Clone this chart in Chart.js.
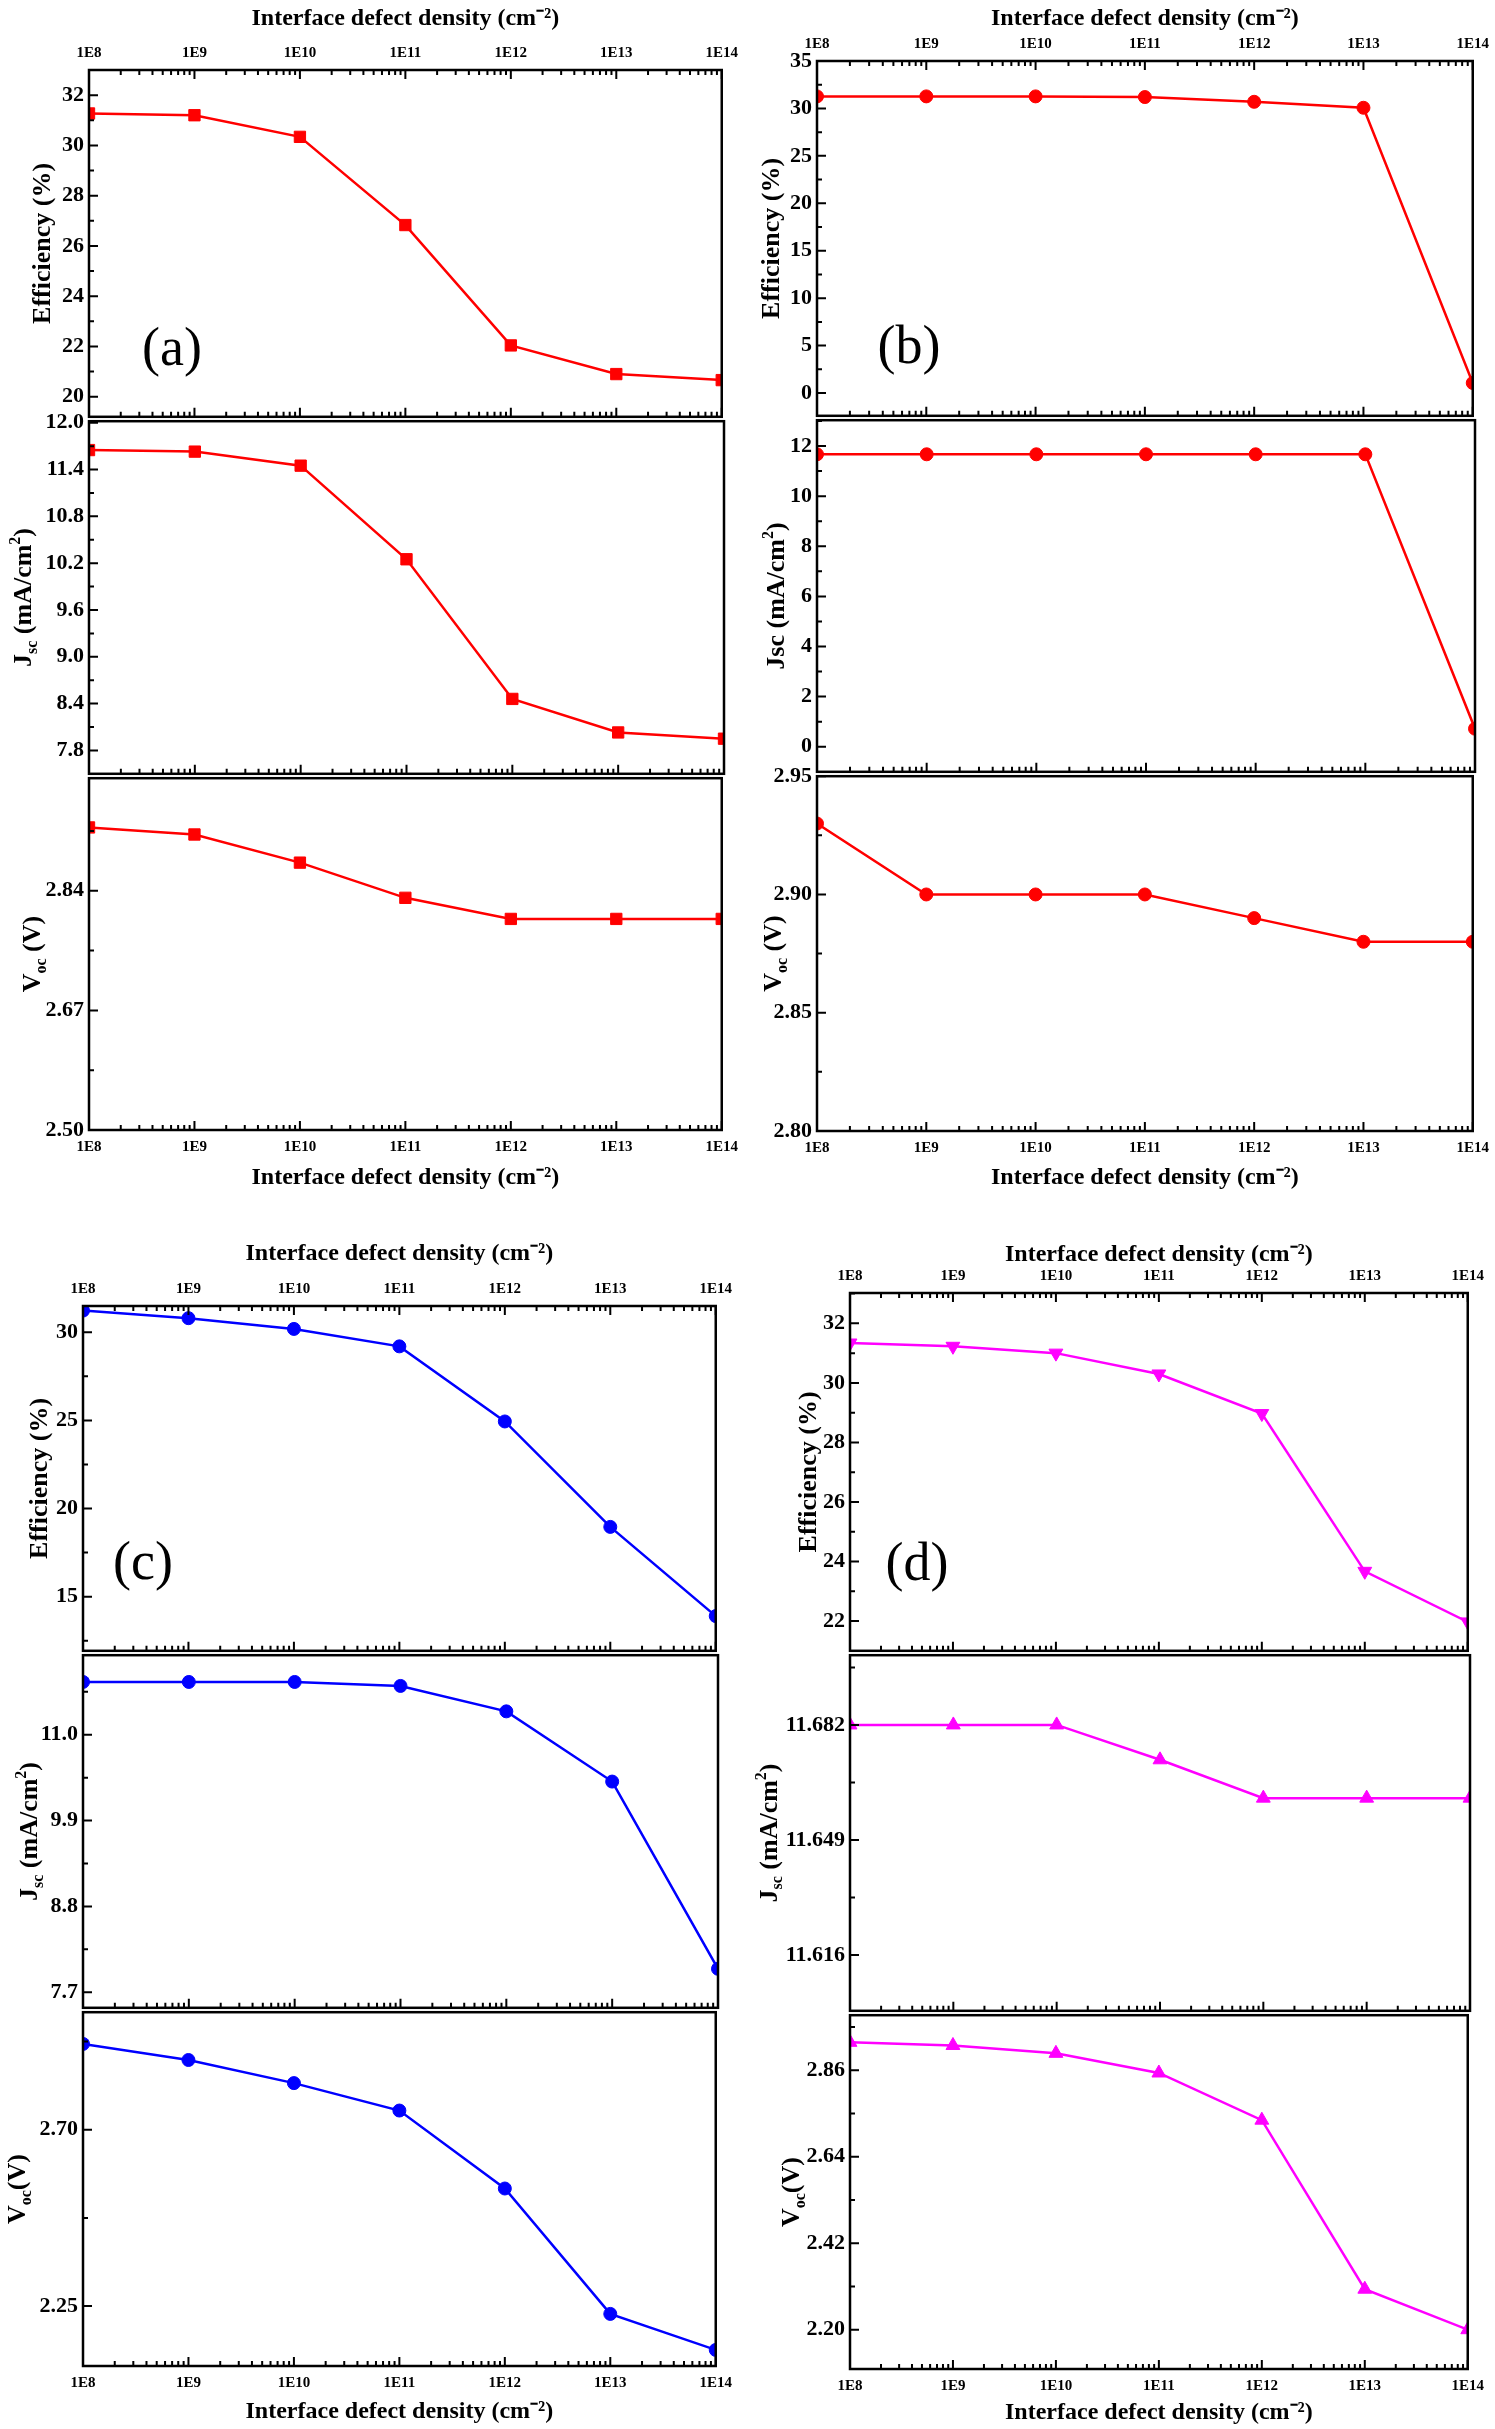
<!DOCTYPE html>
<html>
<head>
<meta charset="utf-8">
<script src="https://cdn.jsdelivr.net/npm/chart.js@4.4.1/dist/chart.umd.min.js"></script>
<style>
html, body { margin: 0; padding: 0; background: #fff; }
#fig { position: relative; width: 1495px; height: 2429px; overflow: hidden; }
#fig canvas { position: absolute; }
.tag { position: absolute; font-family: 'Liberation Serif', 'Times New Roman', serif; font-size: 54px; line-height: 1; transform: translate(-50%, -50%); white-space: nowrap; }
</style>
</head>
<body>
<div id="fig"></div>
<script>
// x values and labels (shared)
const densities = [1e8, 1e9, 1e10, 1e11, 1e12, 1e13, 1e14];
const xTickLabels = ['1E8', '1E9', '1E10', '1E11', '1E12', '1E13', '1E14'];

// panel (a)
const effA = [31.27, 31.2, 30.34, 26.83, 22.04, 20.9, 20.66];
const jscA = [11.65, 11.63, 11.45, 10.25, 8.46, 8.03, 7.95];
const vocA = [2.93, 2.92, 2.88, 2.83, 2.80, 2.80, 2.80];
const effTicksA = [20, 22, 24, 26, 28, 30, 32];
const jscTicksA = [7.8, 8.4, 9.0, 9.6, 10.2, 10.8, 11.4, 12.0];
const vocTicksA = [2.50, 2.67, 2.84];

// panel (b)
const effB = [31.27, 31.27, 31.27, 31.2, 30.7, 30.07, 1.06];
const jscB = [11.67, 11.67, 11.67, 11.67, 11.67, 11.67, 0.72];
const vocB = [2.93, 2.90, 2.90, 2.90, 2.89, 2.88, 2.88];
const effTicksB = [0, 5, 10, 15, 20, 25, 30, 35];
const jscTicksB = [0, 2, 4, 6, 8, 10, 12];
const vocTicksB = [2.80, 2.85, 2.90, 2.95];

// panel (c)
const effC = [31.23, 30.8, 30.19, 29.2, 24.94, 18.96, 13.9];
const jscC = [11.677, 11.677, 11.677, 11.626, 11.30, 10.40, 8.0];
const vocC = [2.919, 2.878, 2.819, 2.749, 2.550, 2.230, 2.138];
const effTicksC = [15, 20, 25, 30];
const jscTicksC = [7.7, 8.8, 9.9, 11.0];
const vocTicksC = [2.25, 2.70];

// panel (d)
const effD = [31.34, 31.23, 31.0, 30.3, 28.97, 23.67, 21.97];
const jscD = [11.682, 11.682, 11.682, 11.672, 11.661, 11.661, 11.661];
const vocD = [2.931, 2.923, 2.903, 2.853, 2.733, 2.303, 2.20];
const effTicksD = [22, 24, 26, 28, 30, 32];
const jscTicksD = [11.616, 11.649, 11.682];
const vocTicksD = [2.20, 2.42, 2.64, 2.86];

const X_TITLE = 'Interface defect density (cm\u207B\u00B2)';
const EFF = [['Efficiency (%)']];
const JSC = [['J'], ['sc', 'sub'], [' (mA/cm'], ['2', 'sup'], [')']];
const JSC_PLAIN = [['Jsc (mA/cm'], ['2', 'sup'], [')']];
const VOC = [['V'], ['oc', 'sub'], [' (V)']];
const VOC_TIGHT = [['V'], ['oc', 'sub'], ['(V)']];

const SERIF = "'Liberation Serif', 'Times New Roman', serif";
const LEFT_W = 110, RIGHT_PAD = 22;

const panels = [
    { tag: '(a)', tagX: 172, tagY: 347, left: 89, right: 724, ys: [70, 419, 776, 1130], topTitle: 18, botTitle: 1178,
      color: '#ff0000', style: ['rect', 'rect', 'rect'], rot: [0, 0, 0], radius: 8,
      rows: [
          { data: effA, ticks: effTicksA, min: 19.2, max: 33, dec: 0, title: EFF, titleX: 41.5 },
          { data: jscA, ticks: jscTicksA, min: 7.5, max: 12.02, dec: 1, title: JSC, titleX: 22 },
          { data: vocA, ticks: vocTicksA, min: 2.5, max: 3.0, dec: 2, title: VOC, titleX: 31.5 }
      ] },
    { tag: '(b)', tagX: 909, tagY: 345, left: 817, right: 1475, ys: [61, 418, 774, 1131], topTitle: 18, botTitle: 1178,
      color: '#ff0000', style: ['circle', 'circle', 'circle'], rot: [0, 0, 0], radius: 6.5,
      rows: [
          { data: effB, ticks: effTicksB, min: -2.4, max: 35, dec: 0, title: EFF, titleX: 770.5 },
          { data: jscB, ticks: jscTicksB, min: -1, max: 13.03, dec: 0, title: JSC_PLAIN, titleX: 775 },
          { data: vocB, ticks: vocTicksB, min: 2.80, max: 2.95, dec: 2, title: VOC, titleX: 772 }
      ] },
    { tag: '(c)', tagX: 143, tagY: 1561, left: 83, right: 718, ys: [1306, 1653, 2010, 2366], topTitle: 1253, botTitle: 2412,
      color: '#0000ff', style: ['circle', 'circle', 'circle'], rot: [0, 0, 0], radius: 6.5,
      rows: [
          { data: effC, ticks: effTicksC, min: 11.93, max: 31.49, dec: 0, title: EFF, titleX: 38 },
          { data: jscC, ticks: jscTicksC, min: 7.5, max: 12.02, dec: 1, title: JSC, titleX: 28 },
          { data: vocC, ticks: vocTicksC, min: 2.097, max: 3.0, dec: 2, title: VOC_TIGHT, titleX: 16.5 }
      ] },
    { tag: '(d)', tagX: 917, tagY: 1562, left: 850, right: 1470, ys: [1293, 1653, 2013, 2369], topTitle: 1254, botTitle: 2413,
      color: '#ff00ff', style: ['triangle', 'triangle', 'triangle'], rot: [180, 0, 0], radius: 8,
      rows: [
          { data: effD, ticks: effTicksD, min: 21.0, max: 33.02, dec: 0, title: EFF, titleX: 807.5 },
          { data: jscD, ticks: jscTicksD, min: 11.600, max: 11.702, dec: 3, title: JSC, titleX: 767.7 },
          { data: vocD, ticks: vocTicksD, min: 2.10, max: 3.0, dec: 2, title: VOC_TIGHT, titleX: 790.5 }
      ] }
];

function drawRich(ctx, parts, cx, cy, size) {
    const big = 'bold ' + size + 'px ' + SERIF;
    const small = 'bold ' + Math.round(size * 0.62) + 'px ' + SERIF;
    let w = 0;
    for (const [s, kind] of parts) {
        ctx.font = kind ? small : big;
        w += ctx.measureText(s).width;
    }
    ctx.save();
    ctx.translate(cx, cy);
    ctx.rotate(-Math.PI / 2);
    ctx.fillStyle = '#000';
    ctx.textBaseline = 'alphabetic';
    let x = -w / 2;
    const base = size * 0.34;
    for (const [s, kind] of parts) {
        ctx.font = kind ? small : big;
        const dy = kind === 'sub' ? size * 0.22 : kind === 'sup' ? -size * 0.42 : 0;
        ctx.fillText(s, x, base + dy);
        x += ctx.measureText(s).width;
    }
    ctx.restore();
}

// frame, inward ticks and the y title
const framePlugin = {
    id: 'frame',
    afterDraw(chart, args, opts) {
        const { ctx, chartArea: a, scales } = chart;
        const xs = scales.x, ys = scales.y;
        ctx.save();
        ctx.strokeStyle = '#000';
        ctx.lineWidth = 2;
        ctx.beginPath();
        for (let e = 8; e <= 14; e++) {
            for (let k = 1; k <= 9; k++) {
                const v = k * Math.pow(10, e);
                if (v > 1e14) break;
                const px = xs.getPixelForValue(v);
                const len = k === 1 ? 9 : 5;
                ctx.moveTo(px, a.bottom);
                ctx.lineTo(px, a.bottom - len);
                if (opts.topTicks) {
                    ctx.moveTo(px, a.top);
                    ctx.lineTo(px, a.top + len);
                }
            }
        }
        const t = opts.yTicks;
        const step = t[1] - t[0];
        for (const v of t) {
            const py = ys.getPixelForValue(v);
            ctx.moveTo(a.left, py);
            ctx.lineTo(a.left + 9, py);
        }
        for (let v = t[0] - step / 2; v < ys.max; v += step) {
            if (v <= ys.min) continue;
            const py = ys.getPixelForValue(v);
            ctx.moveTo(a.left, py);
            ctx.lineTo(a.left + 5, py);
        }
        ctx.stroke();
        ctx.lineWidth = 2.5;
        ctx.strokeRect(a.left, a.top, a.right - a.left, a.bottom - a.top);
        ctx.restore();
        drawRich(ctx, opts.title, opts.titleX, (a.top + a.bottom) / 2, 26);
    }
};

const fig = document.getElementById('fig');

function makeChart(p, r, i) {
    const isTop = i === 0, isBot = i === 2;
    const plotTop = p.ys[i], plotBot = p.ys[i + 1];
    const canvasTop = isTop ? Math.round(p.topTitle - 16.4) : plotTop - 16;
    const canvasBot = isBot ? Math.round(p.botTitle + 16.4) : plotBot + 16;
    const canvasLeft = p.left - LEFT_W;
    const w = LEFT_W + (p.right - p.left) + RIGHT_PAD;
    const h = canvasBot - canvasTop;

    const canvas = document.createElement('canvas');
    canvas.width = w;
    canvas.height = h;
    canvas.style.left = canvasLeft + 'px';
    canvas.style.top = canvasTop + 'px';
    canvas.style.width = w + 'px';
    canvas.style.height = h + 'px';
    fig.appendChild(canvas);

    const xAxis = (pos, show, size) => ({
        type: 'logarithmic',
        position: pos,
        min: 1e8,
        max: 1e14,
        display: show,
        afterBuildTicks: s => { s.ticks = densities.map(v => ({ value: v })); },
        afterFit: s => { s.height = show ? size : 0; },
        grid: { display: false, drawTicks: false },
        border: { display: false },
        ticks: {
            autoSkip: false, maxRotation: 0, minRotation: 0, padding: 8, color: '#000',
            font: { family: SERIF, size: 15, weight: 'bold' },
            callback: (v, idx) => xTickLabels[idx]
        },
        title: {
            display: true, text: X_TITLE, color: '#000',
            font: { family: SERIF, size: 24, weight: 'bold' },
            padding: { top: 2, bottom: 2 }
        }
    });

    const scales = {
        x: xAxis('bottom', isBot, canvasBot - plotBot),
        y: {
            type: 'linear',
            min: r.min,
            max: r.max,
            afterBuildTicks: s => { s.ticks = r.ticks.map(v => ({ value: v })); },
            afterFit: s => { s.width = LEFT_W; },
            grid: { display: false, drawTicks: false },
            border: { display: false },
            ticks: {
                padding: 5, color: '#000',
                font: { family: SERIF, size: 22, weight: 'bold' },
                callback: v => Number(v).toFixed(r.dec)
            }
        }
    };
    if (isTop) scales.x2 = xAxis('top', true, plotTop - canvasTop);

    new Chart(canvas.getContext('2d'), {
        type: 'line',
        data: {
            datasets: [{
                data: densities.map((x, k) => ({ x: x, y: r.data[k] })),
                borderColor: p.color,
                backgroundColor: p.color,
                borderWidth: 2.5,
                tension: 0,
                pointStyle: p.style[i],
                pointRotation: p.rot[i],
                pointRadius: p.radius,
                pointBorderWidth: 1,
                pointBackgroundColor: p.color,
                pointBorderColor: p.color
            }]
        },
        options: {
            responsive: false,
            animation: false,
            layout: {
                padding: {
                    left: 0,
                    right: RIGHT_PAD,
                    top: isTop ? 0 : plotTop - canvasTop,
                    bottom: isBot ? 0 : canvasBot - plotBot
                }
            },
            plugins: {
                legend: { display: false },
                tooltip: { enabled: false },
                frame: { topTicks: isTop, yTicks: r.ticks, title: r.title, titleX: r.titleX - canvasLeft }
            },
            scales: scales
        },
        plugins: [framePlugin]
    });
}

panels.forEach(p => {
    p.rows.forEach((r, i) => makeChart(p, r, i));
    const tag = document.createElement('div');
    tag.className = 'tag';
    tag.textContent = p.tag;
    tag.style.left = p.tagX + 'px';
    tag.style.top = p.tagY + 'px';
    fig.appendChild(tag);
});
</script>
</body>
</html>
